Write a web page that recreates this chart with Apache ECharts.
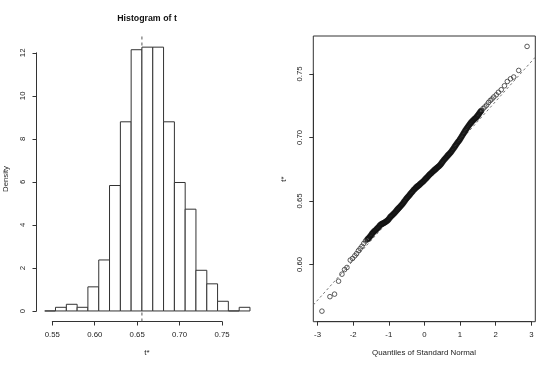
<!DOCTYPE html>
<html><head><meta charset="utf-8">
<script src="https://cdn.jsdelivr.net/npm/echarts@6/dist/echarts.min.js"></script>
<style>html,body{margin:0;padding:0;background:#fff}#c{width:554px;height:367px}</style>
</head><body><div id="c"></div>
<script>
// ---- Histogram of t (bootstrap replicates) ----
const binEdges = [0.5410, 0.5537, 0.5665, 0.5792, 0.5919, 0.6047, 0.6174, 0.6302, 0.6429, 0.6556,
                  0.6684, 0.6811, 0.6939, 0.7066, 0.7193, 0.7321, 0.7448, 0.7575, 0.7703, 0.7830];
const densities = [0, 0.17, 0.31, 0.17, 1.12, 2.37, 5.83, 8.79, 12.14, 12.26,
                   12.26, 8.79, 5.97, 4.73, 1.89, 1.26, 0.45, 0, 0.17];
const t0 = 0.6556;
const histXTicks = [0.55, 0.60, 0.65, 0.70, 0.75];
const histYTicks = [0, 2, 4, 6, 8, 10, 12];

// ---- Normal Q-Q plot of t ----
const qqTheoretical = [
  -2.874, -2.649, -2.520, -2.407, -2.312, -2.239, -2.171, -2.079, -2.014,
  -1.95, -1.90, -1.85, -1.80, -1.75, -1.70, -1.65, -1.60, -1.55, -1.50,
  -1.45, -1.40, -1.35, -1.30, -1.25, -1.20, -1.15, -1.10, -1.05, -1.00,
  -0.95, -0.90, -0.85, -0.80, -0.75, -0.70, -0.65, -0.60, -0.55, -0.50,
  -0.45, -0.40, -0.35, -0.30, -0.25, -0.20, -0.15, -0.10, -0.05, 0.00,
  0.05, 0.10, 0.15, 0.20, 0.25, 0.30, 0.35, 0.40, 0.45, 0.50,
  0.55, 0.60, 0.65, 0.70, 0.75, 0.80, 0.85, 0.90, 0.95, 1.00,
  1.05, 1.10, 1.15, 1.20, 1.25, 1.30, 1.35, 1.40, 1.45, 1.50,
  1.55, 1.60, 1.65, 1.70, 1.75, 1.80, 1.85, 1.90, 1.95,
  2.02, 2.08, 2.16, 2.25, 2.33, 2.42, 2.51, 2.65, 2.885,
  -1.575, -1.525, -1.475, -1.425, -1.375, -1.325, -1.275, -1.225, -1.175, -1.125,
  -1.075, -1.025, -0.975, -0.925, -0.875, -0.825, -0.775, -0.725, -0.675, -0.625,
  -0.575, -0.525, -0.475, -0.425, -0.375, -0.325, -0.275, -0.225, -0.175, -0.125,
  -0.075, -0.025, 0.025, 0.075, 0.125, 0.175, 0.225, 0.275, 0.325, 0.375,
  0.425, 0.475, 0.525, 0.575, 0.625, 0.675, 0.725, 0.775, 0.825, 0.875,
  0.925, 0.975, 1.025, 1.075, 1.125, 1.175, 1.225, 1.275, 1.325, 1.375,
  1.425, 1.475, 1.525, 1.575];
const qqSample = [
  0.5632, 0.5746, 0.5766, 0.5868, 0.5923, 0.5959, 0.5976, 0.6034, 0.6047,
  0.6068, 0.6085, 0.6108, 0.6125, 0.6143, 0.6165, 0.6185, 0.6196, 0.6209, 0.6228,
  0.6247, 0.6262, 0.6274, 0.6289, 0.6305, 0.6318, 0.6324, 0.6332, 0.6341, 0.6356,
  0.6374, 0.6387, 0.6400, 0.6417, 0.6433, 0.6448, 0.6463, 0.6480, 0.6499, 0.6518,
  0.6535, 0.6551, 0.6568, 0.6585, 0.6599, 0.6612, 0.6623, 0.6636, 0.6649, 0.6662,
  0.6677, 0.6692, 0.6707, 0.6720, 0.6733, 0.6746, 0.6759, 0.6771, 0.6784, 0.6803,
  0.6822, 0.6838, 0.6854, 0.6869, 0.6885, 0.6904, 0.6925, 0.6945, 0.6965, 0.6984,
  0.7007, 0.7030, 0.7053, 0.7073, 0.7094, 0.7112, 0.7128, 0.7142, 0.7155, 0.7171,
  0.7192, 0.7210, 0.7227, 0.7240, 0.7254, 0.7274, 0.7290, 0.7302, 0.7318,
  0.7335, 0.7355, 0.7375, 0.7406, 0.7440, 0.7461, 0.7475, 0.7527, 0.7716,
  0.6203, 0.6219, 0.6238, 0.6255, 0.6267, 0.6282, 0.6297, 0.6312, 0.6321, 0.6328,
  0.6337, 0.6348, 0.6365, 0.6381, 0.6394, 0.6408, 0.6425, 0.6441, 0.6455, 0.6471,
  0.6490, 0.6509, 0.6527, 0.6543, 0.6560, 0.6576, 0.6592, 0.6606, 0.6618, 0.6630,
  0.6642, 0.6655, 0.6670, 0.6684, 0.6700, 0.6713, 0.6727, 0.6740, 0.6752, 0.6765,
  0.6777, 0.6793, 0.6812, 0.6830, 0.6846, 0.6862, 0.6877, 0.6894, 0.6914, 0.6935,
  0.6955, 0.6974, 0.6995, 0.7018, 0.7041, 0.7063, 0.7084, 0.7103, 0.7120, 0.7135,
  0.7149, 0.7163, 0.7181, 0.7201];
const qqLineMean = 0.6656;
const qqLineSd = 0.0313;
const qqXTicks = [-3, -2, -1, 0, 1, 2, 3];
const qqYTicks = [0.60, 0.65, 0.70, 0.75];

// plot-region ranges (R extends data range by 4%)
const hx = [0.5313, 0.7927], hy = [-0.49, 12.75];
const qx = [-3.116, 3.116], qy = [0.5549, 0.7798];

const FONT = '"Liberation Sans", Arial, sans-serif';
const INK = '#333';
const TXT = '#222';

function visAxis(extra) {
  return Object.assign({
    axisLine: { show: true, onZero: false, lineStyle: { color: INK, width: 1 } },
    axisTick: { show: true, inside: false, length: 4, lineStyle: { color: INK, width: 1 } },
    splitLine: { show: false }
  }, extra);
}
function hidAxis(extra) {
  return Object.assign({ show: false, splitLine: { show: false } }, extra);
}
const lab = (extra) => Object.assign({ show: true, color: TXT, fontFamily: FONT, fontSize: 7.8 }, extra);

const chart = echarts.init(document.getElementById('c'), null, { renderer: 'canvas' });
chart.setOption({
  backgroundColor: '#fff',
  animation: false,
  grid: [
    { left: 36.5, top: 36.6, width: 221.7, height: 284.9 },           // 0 hist plot region
    { left: 52.3, top: 36.6, width: 169.7, height: 284.9 },           // 1 hist x-axis
    { left: 36.5, top: 52.8, width: 221.7, height: 258.2 },           // 2 hist y-axis
    { left: 313.3, top: 36, width: 222, height: 285.7, show: true, borderColor: INK, borderWidth: 1, backgroundColor: 'transparent' }, // 3 qq
    { left: 317.5, top: 36, width: 213.8, height: 285.7 },            // 4 qq x-axis
    { left: 313.3, top: 73.9, width: 222, height: 190.5 }             // 5 qq y-axis
  ],
  xAxis: [
    hidAxis({ gridIndex: 0, type: 'value', min: hx[0], max: hx[1] }),
    visAxis({ gridIndex: 1, type: 'value', position: 'bottom', min: histXTicks[0], max: histXTicks[histXTicks.length - 1], interval: 0.05,
      axisLabel: lab({ margin: 9, formatter: v => v.toFixed(2) }) }),
    hidAxis({ gridIndex: 2, type: 'value', min: hx[0], max: hx[1] }),
    hidAxis({ gridIndex: 3, type: 'value', min: qx[0], max: qx[1] }),
    visAxis({ gridIndex: 4, type: 'value', position: 'bottom', min: qqXTicks[0], max: qqXTicks[qqXTicks.length - 1], interval: 1,
      axisLabel: lab({ margin: 9 }) }),
    hidAxis({ gridIndex: 5, type: 'value', min: qx[0], max: qx[1] })
  ],
  yAxis: [
    hidAxis({ gridIndex: 0, type: 'value', min: hy[0], max: hy[1] }),
    hidAxis({ gridIndex: 1, type: 'value', min: hy[0], max: hy[1] }),
    visAxis({ gridIndex: 2, type: 'value', position: 'left', min: histYTicks[0], max: histYTicks[histYTicks.length - 1], interval: 2,
      axisLabel: lab({ rotate: 90, margin: 10 }) }),
    hidAxis({ gridIndex: 3, type: 'value', min: qy[0], max: qy[1] }),
    hidAxis({ gridIndex: 4, type: 'value', min: qy[0], max: qy[1] }),
    visAxis({ gridIndex: 5, type: 'value', position: 'left', min: qqYTicks[0], max: qqYTicks[qqYTicks.length - 1], interval: 0.05,
      axisLabel: lab({ rotate: 90, margin: 9, formatter: v => v.toFixed(2) }) })
  ],
  series: [
    { // t0 reference line (dashed), beneath the bars
      type: 'line', xAxisIndex: 0, yAxisIndex: 0, z: 1, silent: true, symbol: 'none',
      data: [[t0, hy[0]], [t0, hy[1]]],
      lineStyle: { color: '#555', width: 1, type: [3, 3] }
    },
    { // histogram bars
      type: 'custom', xAxisIndex: 0, yAxisIndex: 0, z: 2, silent: true,
      data: densities.map((d, i) => [binEdges[i], binEdges[i + 1], d]),
      encode: { x: [0, 1], y: 2 },
      renderItem: function (params, api) {
        const p0 = api.coord([api.value(0), 0]);
        const p1 = api.coord([api.value(1), api.value(2)]);
        return {
          type: 'polygon',
          shape: { points: [[p0[0], p0[1]], [p0[0], p1[1]], [p1[0], p1[1]], [p1[0], p0[1]]] },
          style: { fill: '#fff', stroke: INK, lineWidth: 1 }
        };
      }
    },
    { // qq reference line mean + sd*q
      type: 'line', xAxisIndex: 3, yAxisIndex: 3, silent: true, symbol: 'none', z: 2,
      data: [[qx[0], qqLineMean + qqLineSd * qx[0]], [qx[1], qqLineMean + qqLineSd * qx[1]]],
      lineStyle: { color: '#666', width: 0.9, type: [2.5, 2.5] }
    },
    { // qq points (dense central run overplots into a dark band)
      type: 'scatter', xAxisIndex: 3, yAxisIndex: 3, silent: true, z: 3,
      symbol: 'circle', symbolSize: 4.6,
      data: qqTheoretical.map((q, i) => {
        const dense = Math.abs(q) < 1.62;
        return {
          value: [q, qqSample[i]],
          itemStyle: dense ? { borderColor: '#111', borderWidth: 1.5 } : { borderColor: '#333', borderWidth: 1 }
        };
      }),
      itemStyle: { color: 'rgba(0,0,0,0)', borderColor: '#222', borderWidth: 1 }
    }
  ],
  graphic: [
    { type: 'text', x: 147, y: 19, style: { text: 'Histogram of t', font: 'bold 8.8px ' + FONT, fill: '#111', align: 'center', verticalAlign: 'middle' } },
    { type: 'text', x: 147, y: 353, style: { text: 't*', font: '8px ' + FONT, fill: TXT, align: 'center', verticalAlign: 'middle' } },
    { type: 'text', x: 6, y: 179, rotation: Math.PI / 2, style: { text: 'Density', font: '7.8px ' + FONT, fill: TXT, align: 'center', verticalAlign: 'middle' } },
    { type: 'text', x: 424, y: 353, style: { text: 'Quantiles of Standard Normal', font: '7.9px ' + FONT, fill: TXT, align: 'center', verticalAlign: 'middle' } },
    { type: 'text', x: 284, y: 179, rotation: Math.PI / 2, style: { text: 't*', font: '8px ' + FONT, fill: TXT, align: 'center', verticalAlign: 'middle' } }
  ]
});
</script>
</body></html>
